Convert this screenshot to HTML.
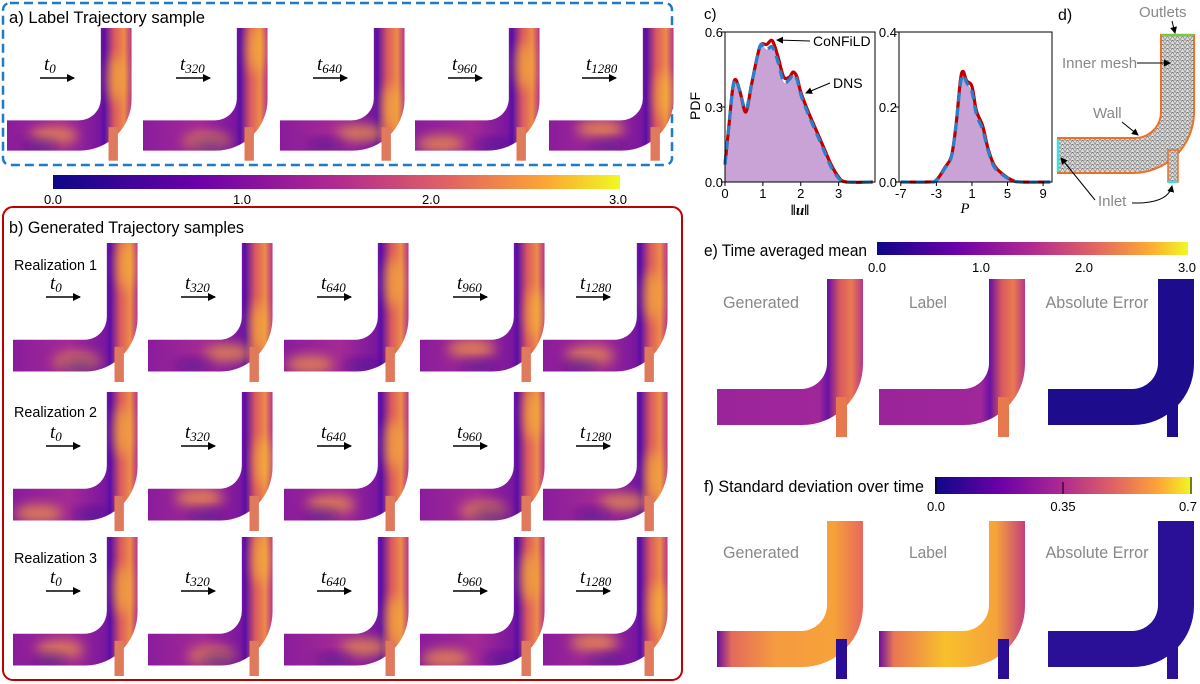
<!DOCTYPE html>
<html><head><meta charset="utf-8"><style>
html,body{margin:0;padding:0;background:#fff}
svg{display:block;font-family:"Liberation Sans","DejaVu Sans",sans-serif}
</style></head><body>
<svg id="fig" width="1200" height="684" viewBox="0 0 1200 684" xmlns="http://www.w3.org/2000/svg">
<defs>
<linearGradient id="plasma" x1="0" x2="1" y1="0" y2="0">
<stop offset="0" stop-color="#0d0887"/><stop offset="0.25" stop-color="#6a00a8"/><stop offset="0.5" stop-color="#b12a90"/><stop offset="0.7" stop-color="#e16462"/><stop offset="0.87" stop-color="#fca636"/><stop offset="1" stop-color="#f0f921"/>
</linearGradient>
<linearGradient id="flowA" x1="0" x2="1" y1="0" y2="0">
<stop offset="0" stop-color="#8a1c9c"/><stop offset="0.45" stop-color="#a42a95"/><stop offset="0.74" stop-color="#7a179f"/><stop offset="0.78" stop-color="#5a0ea6"/><stop offset="0.86" stop-color="#d8585f"/><stop offset="0.94" stop-color="#ee8a4a"/><stop offset="1" stop-color="#b43888"/>
</linearGradient>
<linearGradient id="meanG" x1="0" x2="1" y1="0" y2="0">
<stop offset="0" stop-color="#9a2499"/><stop offset="0.7" stop-color="#a0279a"/><stop offset="0.76" stop-color="#6a12a3"/><stop offset="0.84" stop-color="#d8585f"/><stop offset="0.92" stop-color="#ea7a50"/><stop offset="1" stop-color="#b43888"/>
</linearGradient>
<linearGradient id="stdG" x1="0" x2="1" y1="0" y2="0">
<stop offset="0" stop-color="#6a0fa0"/><stop offset="0.1" stop-color="#e36a5c"/><stop offset="0.4" stop-color="#f59b40"/><stop offset="0.8" stop-color="#f6a23a"/><stop offset="1" stop-color="#e8675e"/>
</linearGradient>
<linearGradient id="stdL" x1="0" x2="1" y1="0" y2="0">
<stop offset="0" stop-color="#6a0fa0"/><stop offset="0.1" stop-color="#ea7554"/><stop offset="0.45" stop-color="#f8c02c"/><stop offset="0.8" stop-color="#f6a33a"/><stop offset="1" stop-color="#c43f7e"/>
</linearGradient>
<filter id="blur" x="-50%" y="-50%" width="200%" height="200%"><feGaussianBlur stdDeviation="7"/></filter>
<clipPath id="pipeClip"><path d="M0,110 L84,110 A26,26 0 0 0 110,84 L110,0 L146,0 L146,85 A61,61 0 0 1 85,146 L0,146 Z"/></clipPath>
<pattern id="mesh" width="5" height="4" patternUnits="userSpaceOnUse">
<rect width="5" height="4" fill="#dadada"/><path d="M0,4 L2.5,0 L5,4 M0,0 H5" stroke="#444" stroke-width="0.45" fill="none"/>
</pattern>
<marker id="arr" markerWidth="8" markerHeight="8" refX="7" refY="4" orient="auto" markerUnits="userSpaceOnUse"><path d="M0,0 L8,4 L0,8 Z" fill="#000"/></marker>
<marker id="arrs" markerWidth="7" markerHeight="7" refX="6" refY="3.5" orient="auto" markerUnits="userSpaceOnUse"><path d="M0,0 L7,3.5 L0,7 Z" fill="#000"/></marker>
</defs>

<rect x="3" y="3" width="669" height="162" rx="7" fill="none" stroke="#1f7ac8" stroke-width="2.5" stroke-dasharray="9 5"/>
<text x="9" y="23" font-size="17" textLength="196" lengthAdjust="spacingAndGlyphs">a) Label Trajectory sample</text>
<rect x="3" y="207" width="679" height="473" rx="10" fill="none" stroke="#c00000" stroke-width="2"/>
<text x="9" y="233" font-size="17" textLength="235" lengthAdjust="spacingAndGlyphs">b) Generated Trajectory samples</text>

<g>
<rect x="53" y="175" width="567" height="14" fill="url(#plasma)"/>
<text x="53" y="204" font-size="13" text-anchor="middle">0.0</text>
<text x="242" y="204" font-size="13" text-anchor="middle">1.0</text>
<text x="431" y="204" font-size="13" text-anchor="middle">2.0</text>
<text x="618" y="204" font-size="13" text-anchor="middle">3.0</text>
</g>

<text x="14" y="270" font-size="15" textLength="83" lengthAdjust="spacingAndGlyphs">Realization 1</text>
<text x="14" y="417" font-size="15" textLength="83" lengthAdjust="spacingAndGlyphs">Realization 2</text>
<text x="14" y="563" font-size="15" textLength="83" lengthAdjust="spacingAndGlyphs">Realization 3</text>

<g id="pipes"></g>

<text x="704" y="19" font-size="15">c)</text>
<g id="chartc"></g>

<text x="1058" y="20" font-size="16">d)</text>
<g>
<path d="M1058,138 L1135,138 A26,26 0 0 0 1161,112 L1161,35 L1194,35 L1194,112 A61,61 0 0 1 1133,173 L1058,173 Z" fill="url(#mesh)" stroke="#f07020" stroke-width="2"/>
<rect x="1168" y="150" width="10" height="32" fill="url(#mesh)" stroke="#f07020" stroke-width="1.5"/>
<line x1="1058" y1="139" x2="1058" y2="172" stroke="#40e0e0" stroke-width="2.5"/>
<line x1="1168" y1="182" x2="1178" y2="182" stroke="#40e0e0" stroke-width="2.5"/>
<line x1="1161" y1="35" x2="1194" y2="35" stroke="#7ac943" stroke-width="2.5"/>
</g>
<g font-size="15" fill="#888">
<text x="1139" y="17">Outlets</text>
<text x="1062" y="68">Inner mesh</text>
<text x="1093" y="118">Wall</text>
<text x="1098" y="206">Inlet</text>
<line x1="1172" y1="21" x2="1175" y2="33" stroke="#000" marker-end="url(#arrs)"/>
<line x1="1137" y1="63" x2="1170" y2="63" stroke="#000" marker-end="url(#arrs)"/>
<line x1="1122" y1="122" x2="1138" y2="135" stroke="#000" marker-end="url(#arrs)"/>
<line x1="1095" y1="200" x2="1061" y2="158" stroke="#000" marker-end="url(#arrs)"/>
<path d="M1132,203 Q1168,204 1172,186" fill="none" stroke="#000" marker-end="url(#arrs)"/>
</g>

<text x="704" y="256" font-size="17" textLength="163" lengthAdjust="spacingAndGlyphs">e) Time averaged mean</text>
<g>
<rect x="877" y="242" width="311" height="13" fill="url(#plasma)"/>
<text x="877" y="272" font-size="13" text-anchor="middle">0.0</text>
<text x="981" y="272" font-size="13" text-anchor="middle">1.0</text>
<text x="1084" y="272" font-size="13" text-anchor="middle">2.0</text>
<text x="1187" y="272" font-size="13" text-anchor="middle">3.0</text>
</g>
<g font-size="17" fill="#888" text-anchor="middle">
<text x="761" y="308" textLength="76" lengthAdjust="spacingAndGlyphs">Generated</text>
<text x="928" y="308" textLength="38" lengthAdjust="spacingAndGlyphs">Label</text>
<text x="1097" y="308" textLength="103" lengthAdjust="spacingAndGlyphs">Absolute Error</text>
<text x="761" y="558" textLength="76" lengthAdjust="spacingAndGlyphs">Generated</text>
<text x="928" y="558" textLength="38" lengthAdjust="spacingAndGlyphs">Label</text>
<text x="1097" y="558" textLength="103" lengthAdjust="spacingAndGlyphs">Absolute Error</text>
</g>

<text x="704" y="492" font-size="17" textLength="220" lengthAdjust="spacingAndGlyphs">f)  Standard deviation over time</text>
<g>
<rect x="935" y="477" width="257" height="17" fill="url(#plasma)"/>
<line x1="936" y1="477" x2="936" y2="494" stroke="#000"/>
<line x1="1063" y1="482" x2="1063" y2="494" stroke="#000"/>
<line x1="1191" y1="477" x2="1191" y2="494" stroke="#000"/>
<text x="936" y="511" font-size="13" text-anchor="middle">0.0</text>
<text x="1063" y="511" font-size="13" text-anchor="middle">0.35</text>
<text x="1188" y="511" font-size="13" text-anchor="middle">0.7</text>
</g>
</svg>
<script>
const NS="http://www.w3.org/2000/svg";
function mk(tag,attrs,parent){const e=document.createElementNS(NS,tag);for(const k in attrs)e.setAttribute(k,attrs[k]);parent.appendChild(e);return e;}
const pipesG=document.getElementById('pipes');
const pipePath="M0,110 L84,110 A26,26 0 0 0 110,84 L110,0 L146,0 L146,85 A61,61 0 0 1 85,146 L0,146 Z";
const blobs=[[[55,128],[128,60]],[[75,135],[132,25]],[[95,125],[130,95]],[[30,138],[128,45]],[[60,120],[135,80]]];
function pipe(x,y,sx,sy,fill,tubeFill,name,blobIdx){
  const g=mk('g',{transform:`translate(${x},${y}) scale(${sx},${sy})`},pipesG);
  
  
  mk('path',{d:pipePath,fill:fill},g);
  if(blobIdx!==undefined){
    const c=mk('g',{'clip-path':'url(#pipeClip)'},g);
    const b=blobs[blobIdx%blobs.length];
    mk('ellipse',{cx:b[0][0],cy:b[0][1],rx:28,ry:10,fill:'#f39a42',opacity:0.75,filter:'url(#blur)'},c);
    mk('ellipse',{cx:b[1][0],cy:b[1][1],rx:10,ry:28,fill:'#f7c030',opacity:0.6,filter:'url(#blur)'},c);
    mk('ellipse',{cx:40+((blobIdx*37)%60),cy:140,rx:22,ry:7,fill:'#3a0a9a',opacity:0.6,filter:'url(#blur)'},c);
  }
  mk('rect',{x:119,y:118,width:11,height:40,fill:tubeFill},g);
}
const times=['0','320','640','960','1280'];
function tlabel(x,y,t){
  const tx=mk('text',{x:x+4,y:y-8,'font-size':19,'font-style':'italic','font-family':'"Liberation Serif",serif'},pipesG);
  
  
  tx.textContent='t';
  const sub=mk('tspan',{'font-size':13,dy:3},tx);sub.textContent=t;
  const a=mk('line',{x1:x,y1:y,x2:x+34,y2:y,stroke:'#000','stroke-width':1.5,'marker-end':'url(#arr)'},pipesG);
  
  
}
const aX=[7,143,280,415,549];
aX.forEach((x,i)=>{pipe(x,28,0.853,0.84,'url(#flowA)','#e07a5c','label-pipe-'+i,i);tlabel(x+33,78,times[i]);});
const bX=[13,148,284,420,543];
const bY=[243,392,537];
bY.forEach((y,r)=>bX.forEach((x,i)=>{pipe(x,y,0.853,0.88,'url(#flowA)','#e07a5c','generated-pipe-r'+(r+1)+'-'+i,i+r*2+1);tlabel(x+33,y+54,times[i]);}));
pipe(717,279,1,1,'url(#meanG)','#e8784e','mean-generated');
pipe(879,279,1,1,'url(#meanG)','#e8784e','mean-label');
pipe(1048,279,1,1,'#1d0c8c','#1d0c8c','mean-abs-error');
pipe(717,521,1,1,'url(#stdG)','#2a0c95','std-generated');
pipe(879,521,1,1,'url(#stdL)','#2a0c95','std-label');
pipe(1048,521,1,1,'#2a1096','#2a1096','std-abs-error');
</script>
<script>
const uX=[0,0.1,0.2,0.28,0.4,0.55,0.7,0.85,0.95,1.1,1.25,1.4,1.55,1.7,1.8,1.9,2.0,2.2,2.4,2.6,2.8,3.0,3.2,3.9];
const uCon=[0.07,0.22,0.37,0.41,0.36,0.28,0.39,0.5,0.55,0.55,0.565,0.5,0.42,0.42,0.44,0.42,0.36,0.28,0.21,0.14,0.07,0.02,0.0,0.0];
const uDns=[0.07,0.22,0.37,0.41,0.36,0.29,0.39,0.5,0.55,0.53,0.54,0.48,0.4,0.41,0.43,0.41,0.35,0.27,0.2,0.13,0.06,0.015,0.0,0.0];
const pX=[-7,-4,-3,-2,-1.3,-0.8,-0.3,0,0.4,1.0,1.5,2.2,2.8,3.5,4.5,5.5,6.5,9.8];
const pCon=[0,0,0.005,0.04,0.07,0.15,0.27,0.295,0.27,0.255,0.19,0.15,0.09,0.045,0.02,0.005,0,0];
const pDns=[0,0,0.004,0.038,0.068,0.15,0.26,0.285,0.265,0.24,0.18,0.14,0.085,0.04,0.018,0.004,0,0];
const uTicksX=[0,1,2,3], uTicksY=[0,0.3,0.6];
const pTicksX=[-7,-3,1,5,9], pTicksY=[0,0.2,0.4];
const cG=document.getElementById('chartc');
function C(t,a){const e=document.createElementNS("http://www.w3.org/2000/svg",t);for(const k in a)e.setAttribute(k,a[k]);cG.appendChild(e);return e;}
function smooth(pts){let d=`M${pts[0][0]},${pts[0][1]}`;for(let i=1;i<pts.length;i++){const p0=pts[Math.max(i-2,0)],p1=pts[i-1],p2=pts[i],p3=pts[Math.min(i+1,pts.length-1)];d+=` C${p1[0]+(p2[0]-p0[0])/6},${p1[1]+(p2[1]-p0[1])/6} ${p2[0]-(p3[0]-p1[0])/6},${p2[1]-(p3[1]-p1[1])/6} ${p2[0]},${p2[1]}`;}return d;}
function plot(name,L,R,T,B,x0,x1,y1,xs,con,dns,tx,ty){
  const sx=v=>L+(v-x0)/(x1-x0)*(R-L), sy=v=>B-v/y1*(B-T);
  const pc=con.map((v,i)=>[sx(xs[i]),sy(v)]), pd=dns.map((v,i)=>[sx(xs[i]),sy(v)]);
  const area=C('path',{d:smooth(pd)+` L${pd[pd.length-1][0]},${B} L${pd[0][0]},${B} Z`,fill:'#c9a3d6'});
  
  
  const lc=C('path',{d:smooth(pc),fill:'none',stroke:'#c00000','stroke-width':3.2});
  
  
  const ld=C('path',{d:smooth(pd),fill:'none',stroke:'#2a80c8','stroke-width':3.2,'stroke-dasharray':'9 6'});
  
  
  const fr=C('rect',{x:L,y:T,width:R-L,height:B-T,fill:'none',stroke:'#000','stroke-width':1});
  
  
  tx.forEach(v=>{C('line',{x1:sx(v),x2:sx(v),y1:B,y2:B+4,stroke:'#000'});const t=C('text',{x:sx(v),y:B+16,'font-size':13,'text-anchor':'middle'});t.textContent=String(v);});
  ty.forEach(v=>{C('line',{x1:L-4,x2:L,y1:sy(v),y2:sy(v),stroke:'#000'});const t=C('text',{x:L-2,y:sy(v)+5,'font-size':13,'text-anchor':'end'});t.textContent=v.toFixed(1);});
}
plot('pdf-u',725,875,32,182,0,3.96,0.6,uX,uCon,uDns,uTicksX,uTicksY);
plot('pdf-p',899,1052,32,182,-7.2,10,0.4,pX,pCon,pDns,pTicksX,pTicksY);
let t=C('text',{x:700,y:106,'font-size':14,'text-anchor':'middle',transform:'rotate(-90 700 106)'});t.textContent='PDF';
t=C('text',{x:800,y:215,'font-size':15,'text-anchor':'middle','font-style':'italic','font-weight':'bold','font-family':'"Liberation Serif",serif'});t.textContent='‖u‖';
t=C('text',{x:965,y:213,'font-size':15,'text-anchor':'middle','font-style':'italic','font-family':'"Liberation Serif",serif'});t.textContent='P';
t=C('text',{x:813,y:46,'font-size':14});t.textContent='CoNFiLD';
C('line',{x1:810,y1:41,x2:777,y2:40,stroke:'#000','marker-end':'url(#arrs)'});
t=C('text',{x:833,y:88,'font-size':14});t.textContent='DNS';
C('line',{x1:830,y1:83,x2:806,y2:93,stroke:'#000','marker-end':'url(#arrs)'});
</script>
</body></html>
